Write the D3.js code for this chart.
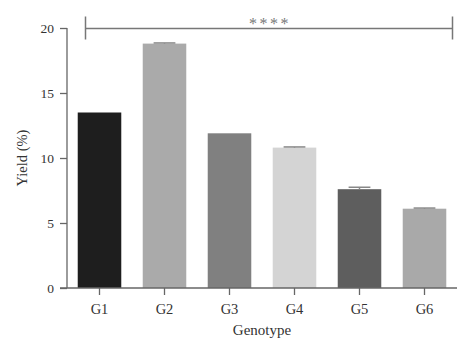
<!DOCTYPE html>
<html>
<head>
<meta charset="utf-8">
<script src="https://cdn.jsdelivr.net/npm/d3@7"></script>
<style>
  html, body { margin: 0; padding: 0; background: #fff; }
  svg { display: block; font-family: "Liberation Serif", "DejaVu Serif", serif; }
</style>
</head>
<body>
<svg id="chart" width="474" height="357"></svg>
<script>
const categories = ["G1", "G2", "G3", "G4", "G5", "G6"];
const values = [13.5, 18.8, 11.9, 10.8, 7.6, 6.1];
const errors = [0, 0.05, 0, 0.05, 0.15, 0.05];
const colors = ["#1e1e1e", "#aaaaaa", "#808080", "#d4d4d4", "#5e5e5e", "#a9a9a9"];
const yTicks = [0, 5, 10, 15, 20];
const sigLabel = "****";
const xTitle = "Genotype";
const yTitle = "Yield (%)";

const svg = d3.select("#chart");
const axisColor = "#666";
const x = d3.scaleBand().domain(categories).range([67, 457]).paddingInner(0.33).paddingOuter(0.165);
const y = d3.scaleLinear().domain([0, 20]).range([288, 28]);

// bars
svg.append("g").selectAll("rect").data(categories).join("rect")
  .attr("x", d => x(d))
  .attr("y", (d, i) => y(values[i]))
  .attr("width", x.bandwidth())
  .attr("height", (d, i) => y(0) - y(values[i]))
  .attr("fill", (d, i) => colors[i]);

// error bars
const eg = svg.append("g").attr("stroke", "#888").attr("stroke-width", 1.5);
categories.forEach((c, i) => {
  if (errors[i] <= 0) return;
  const cx = x(c) + x.bandwidth() / 2;
  const hw = x.bandwidth() / 4;
  eg.append("line").attr("x1", cx).attr("x2", cx).attr("y1", y(values[i])).attr("y2", y(values[i] + errors[i]));
  eg.append("line").attr("x1", cx - hw).attr("x2", cx + hw).attr("y1", y(values[i] + errors[i])).attr("y2", y(values[i] + errors[i]));
});

// y axis
const yAxis = svg.append("g").attr("transform", "translate(67,0)")
  .call(d3.axisLeft(y).tickValues(yTicks).tickSize(7).tickPadding(6));
yAxis.select(".domain").attr("stroke", axisColor).attr("stroke-width", 1.3).attr("d", `M0,${y(20)}V${y(0)}`);
yAxis.selectAll(".tick line").attr("stroke", axisColor).attr("stroke-width", 1.3);
yAxis.selectAll("text").attr("fill", "#333").style("font-size", "13.5px").style("font-family", "Liberation Serif, serif");

// x axis
const xAxis = svg.append("g").attr("transform", `translate(0,${y(0)})`)
  .call(d3.axisBottom(x).tickSize(7).tickPadding(9));
xAxis.select(".domain").attr("stroke", axisColor).attr("stroke-width", 1.3).attr("d", "M60,0H457");
xAxis.selectAll(".tick line").attr("stroke", axisColor).attr("stroke-width", 1.3);
xAxis.selectAll("text").attr("fill", "#333").style("font-size", "14.5px").style("font-family", "Liberation Serif, serif");

// axis titles
svg.append("text").attr("x", (67 + 457) / 2).attr("y", 335).attr("text-anchor", "middle")
  .attr("fill", "#333").style("font-size", "15px").text(xTitle);
svg.append("text").attr("transform", `translate(27,${(y(0) + y(20)) / 2}) rotate(-90)`)
  .attr("text-anchor", "middle").attr("fill", "#333").style("font-size", "14.5px").text(yTitle);

// significance bracket
const sg = svg.append("g").attr("stroke", "#777").attr("stroke-width", 1.5);
const sx1 = x(categories[0]) + x.bandwidth() / 2 - 14;
const sx2 = x(categories[5]) + x.bandwidth() / 2 + 28;
const sy = y(20) + 0.5;
sg.append("line").attr("x1", sx1).attr("x2", sx2).attr("y1", sy).attr("y2", sy);
sg.append("line").attr("x1", sx1).attr("x2", sx1).attr("y1", sy - 12).attr("y2", sy + 11);
sg.append("line").attr("x1", sx2).attr("x2", sx2).attr("y1", sy - 12).attr("y2", sy + 11);
svg.append("text").attr("x", 270).attr("y", 29).attr("text-anchor", "middle")
  .attr("fill", "#777").style("font-size", "16px").style("letter-spacing", "2.5px").text(sigLabel);
</script>
</body>
</html>
